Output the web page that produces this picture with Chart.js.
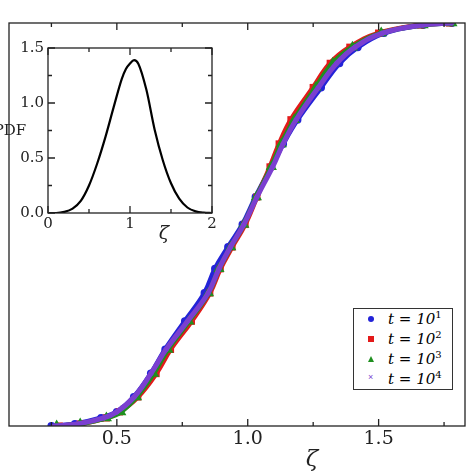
<!DOCTYPE html>
<html>
<head>
<meta charset="utf-8">
<script src="https://cdn.jsdelivr.net/npm/chart.js@4.4.0/dist/chart.umd.min.js"></script>
<style>
  html, body { margin: 0; padding: 0; background: #fff; }
  #wrap { position: relative; width: 474px; height: 474px; overflow: hidden; }
  canvas { position: absolute; left: 0; top: 0; }
  #legend { position: absolute; left: 353px; top: 308px; width: 98px; height: 80px;
    border: 1px solid #333; background: #fff; font: italic 15px "DejaVu Serif", serif; }
  #legend div { height: 20px; line-height: 20px; padding-left: 34px; position: relative; white-space: nowrap; }
  #legend span.m { position: absolute; left: 14px; top: 7px; width: 6px; height: 6px; }
</style>
</head>
<body>
<div id="wrap">
  <canvas id="main" width="474" height="474"></canvas>
  <canvas id="inset" width="474" height="474"></canvas>
  <div id="legend"></div>
</div>
<script>
// --- CDF data (main plot) ---
const cdfLevels = [0, 0.005, 0.02, 0.035, 0.072, 0.13, 0.19, 0.26, 0.33, 0.39, 0.444, 0.50, 0.568, 0.643, 0.70, 0.76, 0.84, 0.90, 0.94, 0.975, 0.995, 1];
const zetaT1 = [0.25, 0.34, 0.44, 0.50, 0.565, 0.63, 0.685, 0.76, 0.835, 0.875, 0.925, 0.98, 1.03, 1.09, 1.135, 1.19, 1.28, 1.35, 1.42, 1.52, 1.67, 1.78];
const zetaT2 = [0.28, 0.36, 0.46, 0.51, 0.58, 0.65, 0.705, 0.785, 0.855, 0.895, 0.94, 0.99, 1.035, 1.085, 1.12, 1.165, 1.25, 1.315, 1.39, 1.50, 1.66, 1.77];
const zetaT3 = [0.27, 0.36, 0.46, 0.515, 0.575, 0.64, 0.695, 0.775, 0.85, 0.89, 0.935, 0.985, 1.033, 1.09, 1.128, 1.178, 1.26, 1.325, 1.40, 1.51, 1.67, 1.78];
const zetaT4 = [0.26, 0.35, 0.45, 0.50, 0.566, 0.63, 0.688, 0.77, 0.849, 0.89, 0.934, 0.985, 1.035, 1.095, 1.135, 1.185, 1.27, 1.34, 1.41, 1.515, 1.67, 1.78];
const seriesLabels = ['1', '2', '3', '4'];
const seriesColors = ['#2323d8', '#e31a1a', '#1f8f1f', '#7b3fd0'];
const seriesMarkers = ['circle', 'rect', 'triangle', 'crossRot'];
const mainXTicks = [0.5, 1.0, 1.5];

// --- PDF data (inset) ---
const pdfZeta = [0, 0.1, 0.2, 0.3, 0.4, 0.5, 0.6, 0.7, 0.8, 0.9, 0.95, 1.0, 1.05, 1.1, 1.2, 1.3, 1.4, 1.5, 1.6, 1.7, 1.8, 1.9, 2];
const pdfValue = [0, 0, 0.01, 0.04, 0.11, 0.25, 0.45, 0.69, 0.96, 1.22, 1.31, 1.36, 1.39, 1.36, 1.12, 0.76, 0.48, 0.27, 0.13, 0.05, 0.015, 0.003, 0];
const insetXTicks = [0, 1, 2];
const insetYTicks = [0.0, 0.5, 1.0, 1.5];

const serif = '"DejaVu Serif", serif';

// axes drawn by hand: inward ticks, frame, labels
function axesPlugin(cfg) {
  return {
    id: 'axes_' + cfg.name,
    beforeDraw(chart) {
      if (!cfg.white) return;
      const a = chart.chartArea, ctx = chart.ctx;
      ctx.save(); ctx.fillStyle = '#fff';
      ctx.fillRect(a.left, a.top, a.right - a.left, a.bottom - a.top);
      ctx.restore();
    },
    afterDraw(chart) {
      const a = chart.chartArea, ctx = chart.ctx;
      const xs = chart.scales.x, ys = chart.scales.y;
      ctx.save();
      ctx.strokeStyle = '#222'; ctx.lineWidth = 1.3;
      ctx.strokeRect(a.left, a.top, a.right - a.left, a.bottom - a.top);
      cfg.xMinor.forEach(v => {
        const px = xs.getPixelForValue(v);
        const len = cfg.xMajor.includes(v) ? 7 : 4;
        ctx.beginPath();
        ctx.moveTo(px, a.bottom); ctx.lineTo(px, a.bottom - len);
        ctx.moveTo(px, a.top); ctx.lineTo(px, a.top + len);
        ctx.stroke();
      });
      (cfg.yMinor || []).forEach(v => {
        const py = ys.getPixelForValue(v);
        const len = (cfg.yMajor || []).includes(v) ? 7 : 4;
        ctx.beginPath();
        ctx.moveTo(a.left, py); ctx.lineTo(a.left + len, py);
        ctx.moveTo(a.right, py); ctx.lineTo(a.right - len, py);
        ctx.stroke();
      });
      ctx.fillStyle = '#222';
      ctx.font = cfg.font + 'px ' + serif;
      ctx.textAlign = 'center'; ctx.textBaseline = 'top';
      cfg.xMajor.forEach(v => {
        ctx.fillText(cfg.xFmt(v), xs.getPixelForValue(v), a.bottom + 4);
      });
      ctx.textAlign = 'right'; ctx.textBaseline = 'middle';
      (cfg.yMajor || []).forEach(v => {
        ctx.fillText(v.toFixed(1), a.left - 4, ys.getPixelForValue(v));
      });
      ctx.font = 'italic ' + (cfg.font + 4) + 'px ' + serif;
      ctx.textAlign = 'center';
      ctx.fillText('ζ', cfg.zetaPos[0], cfg.zetaPos[1]);
      if (cfg.yLabel) {
        ctx.font = cfg.font + 'px ' + serif;
        ctx.fillText(cfg.yLabel, cfg.yLabelPos[0], cfg.yLabelPos[1]);
      }
      ctx.restore();
    }
  };
}

const zetaSets = [zetaT1, zetaT2, zetaT3, zetaT4];
new Chart(document.getElementById('main'), {
  type: 'line',
  data: {
    datasets: zetaSets.map((zs, i) => ({
      label: 't = 10^' + seriesLabels[i],
      data: zs.map((z, k) => ({ x: z, y: cdfLevels[k] })),
      order: 3 - i,
      borderColor: seriesColors[i],
      backgroundColor: seriesColors[i],
      borderWidth: 5,
      tension: 0.4,
      pointStyle: seriesMarkers[i],
      pointRadius: 1.5,
      pointBorderColor: seriesColors[i]
    }))
  },
  options: {
    responsive: false, animation: false,
    layout: { padding: { left: 0, right: 0, top: 23, bottom: 48 } },
    plugins: { legend: { display: false }, tooltip: { enabled: false } },
    scales: {
      x: { type: 'linear', min: 0.088, max: 1.83, display: false },
      y: { min: 0, max: 1, display: false }
    }
  },
  plugins: [axesPlugin({
    name: 'main', font: 19,
    xMajor: mainXTicks, xMinor: [0.25, 0.5, 0.75, 1.0, 1.25, 1.5, 1.75],
    xFmt: v => v.toFixed(1), zetaPos: [312, 460]
  })]
});

new Chart(document.getElementById('inset'), {
  type: 'line',
  data: {
    datasets: [{
      data: pdfZeta.map((z, k) => ({ x: z, y: pdfValue[k] })),
      borderColor: '#000', borderWidth: 2.2, pointRadius: 0,
      cubicInterpolationMode: 'monotone'
    }]
  },
  options: {
    responsive: false, animation: false,
    layout: { padding: { left: 48, right: 262, top: 48, bottom: 261 } },
    plugins: { legend: { display: false }, tooltip: { enabled: false } },
    scales: {
      x: { type: 'linear', min: 0, max: 2, display: false },
      y: { min: 0, max: 1.5, display: false }
    }
  },
  plugins: [axesPlugin({
    name: 'inset', font: 15, white: true,
    xMajor: insetXTicks, xMinor: [0, 0.5, 1, 1.5, 2], xFmt: v => String(v),
    yMajor: insetYTicks, yMinor: [0, 0.25, 0.5, 0.75, 1.0, 1.25, 1.5],
    zetaPos: [164, 234], yLabel: 'PDF', yLabelPos: [10, 131]
  })]
});

// legend
const legend = document.getElementById('legend');
seriesLabels.forEach((s, i) => {
  const row = document.createElement('div');
  const m = document.createElement('span');
  m.className = 'm';
  m.style.background = seriesColors[i];
  if (i === 0) m.style.borderRadius = '50%';
  if (i === 2) { m.style.background = 'none'; m.style.width = '0'; m.style.height = '0';
    m.style.borderLeft = '3px solid transparent'; m.style.borderRight = '3px solid transparent';
    m.style.borderBottom = '6px solid ' + seriesColors[i]; }
  if (i === 3) { m.style.background = 'none'; m.textContent = '×';
    m.style.color = seriesColors[i]; m.style.font = '9px sans-serif'; m.style.top = '3px'; }
  row.appendChild(m);
  row.appendChild(document.createTextNode('t = 10'));
  const sup = document.createElement('sup');
  sup.textContent = s; sup.style.fontSize = '10px'; sup.style.fontStyle = 'normal';
  sup.style.lineHeight = '0';
  row.appendChild(sup);
  legend.appendChild(row);
});
</script>
</body>
</html>
